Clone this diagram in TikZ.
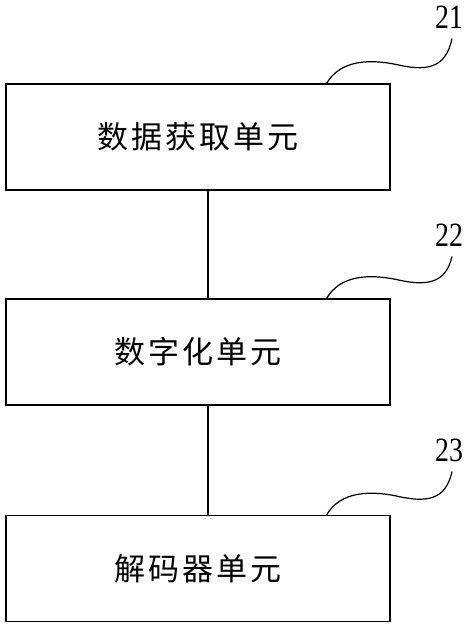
\documentclass[tikz,border=0pt]{standalone}
\usepackage{fontspec}
\setmainfont{Liberation Serif}
\newfontfamily\cjk[LetterSpace=10]{Noto Sans CJK SC}
\usetikzlibrary{calc}
\begin{document}
\begin{tikzpicture}[x=1pt,y=-1pt,
  unitbox/.style={draw,line width=1.3pt,rectangle,inner sep=0pt,minimum width=384pt,minimum height=106pt,font=\cjk\fontsize{31}{34}\selectfont},
  link/.style={line width=1.3pt},
  lead/.style={line width=1.2pt},
  refnum/.style={font=\fontsize{34}{36}\selectfont,inner sep=0pt}]
\useasboundingbox (0,0) rectangle (474,630);
\node[unitbox] (b1) at (198,137) {数据获取单元};
\node[unitbox] (b2) at (198,352) {数字化单元};
\node[unitbox] (b3) at (198,568.5) {解码器单元};
\draw[link] ($(b1.south)+(10,0)$) -- ($(b2.north)+(10,0)$);
\draw[link] ($(b2.south)+(10,0)$) -- ($(b3.north)+(10,0)$);
\node[refnum] (n1) at (449,17) {\scalebox{0.82}[1]{21}};
\node[refnum] (n2) at (449,235) {\scalebox{0.82}[1]{22}};
\node[refnum] (n3) at (449,450) {\scalebox{0.82}[1]{23}};
\foreach \b/\n in {b1/n1,b2/n2,b3/n3}{
  \coordinate (s) at ($(\b.north east)+(-64,0)$);
  \coordinate (e) at ($(\n.south)+(3,10)$);
  \draw[lead] (s) .. controls ($(s)+(14,-24)$) and ($(s)+(44,-24)$) .. ($(s)+(69,-19)$)
     .. controls ($(s)+(99,-12)$) and ($(s)+(119,-14)$) .. (e);
}
\end{tikzpicture}
\end{document}
